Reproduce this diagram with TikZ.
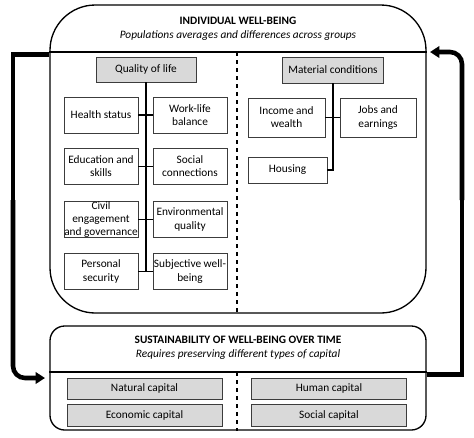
\documentclass[tikz,border=0pt]{standalone}
\usepackage{fontspec}
\setmainfont{Carlito}
\usetikzlibrary{arrows.meta}

\definecolor{boxgray}{RGB}{217,217,217}
\definecolor{edgegray}{RGB}{60,60,60}

\tikzset{
  panel/.style={draw, line width=1pt, rounded corners=#1, fill=white},
  itembox/.style={draw=edgegray, line width=0.6pt, fill=white, inner sep=0pt, align=center,
    font=\fontsize{8.5}{9.8}\selectfont},
  headbox/.style={itembox, fill=boxgray},
  flow/.style={line width=3.4pt},
  flowtip/.style={flow, -{Triangle[length=7pt,width=8.5pt]}},
  link/.style={line width=1.1pt}
}

\begin{document}
\begin{tikzpicture}[x=0.75pt,y=0.75pt,yscale=-1,xscale=1]
\useasboundingbox (0,0) rectangle (474,437);

%Shape: Rounded panels
\node [panel=34pt, minimum width=282pt, minimum height=231pt] (indiv) at (238,159) {};
\node [panel=11pt, minimum width=282pt, minimum height=78pt] (sustain) at (238,378) {};
%Straight Lines: separators
\draw [line width=1pt] (indiv.west |- 0,52) -- (indiv.east |- 0,52) ;
\draw [line width=1pt] (sustain.west |- 0,372) -- (sustain.east |- 0,372) ;
\draw [line width=0.8pt, dashed] (237,52) -- (indiv.south -| 237,0) ;
\draw [line width=0.8pt, dashed] (237,372) -- (sustain.south -| 237,0) ;

% Text Node
\node [font=\fontsize{8.5}{10}\selectfont\bfseries] (indivT) at (238,21) {INDIVIDUAL WELL-BEING};
\node [font=\fontsize{8.5}{10}\selectfont\itshape] (indivS) at (238,36) {Populations averages and differences across groups};
\node [font=\fontsize{8.5}{10}\selectfont\bfseries] (sustT) at (238,340) {SUSTAINABILITY OF WELL-BEING OVER TIME};
\node [font=\fontsize{8.5}{10}\selectfont\itshape] (sustS) at (238,355) {Requires preserving different types of capital};

%Quality of life
\node [headbox, minimum width=75pt, minimum height=18.75pt] (qol) at (146,69.5) {Quality of life};
\node [itembox, minimum width=55.5pt, minimum height=27pt] (hs) at (101,115) {Health status};
\node [itembox, minimum width=55.5pt, minimum height=27pt] (wl) at (190,115) {Work-life\\balance};
\node [itembox, minimum width=55.5pt, minimum height=27.5pt] (es) at (101,166.5) {Education and\\skills};
\node [itembox, minimum width=55.5pt, minimum height=27.5pt] (sc) at (190,166.5) {Social\\connections};
\node [itembox, minimum width=55.5pt, minimum height=27.5pt] (ce) at (101,219.5) {Civil\\engagement\\and governance};
\node [itembox, minimum width=55.5pt, minimum height=27.5pt] (eq) at (190,219.5) {Environmental\\quality};
\node [itembox, minimum width=55.5pt, minimum height=27.5pt] (ps) at (101,271.5) {Personal\\security};
\node [itembox, minimum width=55.5pt, minimum height=27.5pt] (sw) at (190,271.5) {Subjective well-\\being};
\draw [link] (qol) -- (qol |- ps) ;
\draw [link] (hs) -- (wl) ;
\draw [link] (es) -- (sc) ;
\draw [link] (ce) -- (eq) ;
\draw [link] (ps) -- (sw) ;

%Material conditions
\node [headbox, minimum width=75.75pt, minimum height=19.5pt] (mc) at (333,70) {Material conditions};
\node [itembox, minimum width=57.75pt, minimum height=29.25pt] (inc) at (286.5,117.5) {Income and\\wealth};
\node [itembox, minimum width=57pt, minimum height=29.25pt] (job) at (378,117.5) {Jobs and\\earnings};
\node [itembox, minimum width=59.25pt, minimum height=19.5pt] (hou) at (287.5,170) {Housing};
\draw [link] (mc) -- (mc |- hou) -- (hou) ;
\draw [link] (inc) -- (job) ;

%Capitals
\node [headbox, minimum width=116.25pt, minimum height=15.75pt] (nat) at (144.5,388.5) {Natural capital};
\node [headbox, minimum width=116.25pt, minimum height=16.5pt] (eco) at (144.5,415) {Economic capital};
\node [headbox, minimum width=116.25pt, minimum height=15.75pt] (hum) at (329,388.5) {Human capital};
\node [headbox, minimum width=116.25pt, minimum height=16.5pt] (soc) at (329,415) {Social capital};

%Curve Lines: feedback arrows
\coordinate (outL) at (indiv.west |- 0,54.5) ;
\coordinate (midL) at (13,200) ;
\coordinate (inL) at (45,378) ;
\coordinate (outR) at (sustain.east |- 0,374.5) ;
\coordinate (midR) at (462,200) ;
\coordinate (inR) at (430,52) ;
\draw [flow] (outL) -- (13,54.5) -- (midL) ;
\draw [flowtip, rounded corners=9pt] (midL) -- (13,378) -- (inL) ;
\draw [flow] (outR) -- (462,374.5) -- (midR) ;
\draw [flowtip, rounded corners=9pt] (midR) -- (462,52) -- (inR) ;

\end{tikzpicture}
\end{document}
